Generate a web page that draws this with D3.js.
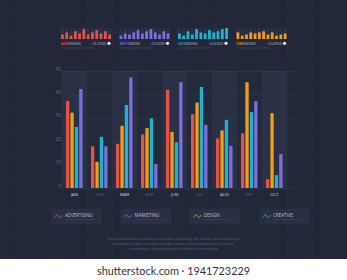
<!DOCTYPE html>
<html>
<head>
<meta charset="utf-8">
<script src="https://cdn.jsdelivr.net/npm/d3@7"></script>
<style>
  html, body { margin: 0; padding: 0; background: #fff; }
  svg { display: block; font-family: "Open Sans", sans-serif; }
</style>
</head>
<body>
<svg id="chart" width="347" height="280"></svg>
<script>
"use strict";

// months shown on the x axis (no MAY in the original)
let months = ["JAN", "FEB", "MAR", "APR", "JUN", "JUL", "AUG", "SEP", "OCT"];

let advertising = [37.2, 17.8, 18.9, 22.9, 42.0, 31.5, 21.2, 23.4, 3.8];
let design      = [32.2, 11.2, 26.6, 25.6, 24.0, 36.5, 24.6, 45.2, 32.0];
let creative    = [26.1, 21.9, 35.5, 29.8, 19.5, 43.2, 29.1, 32.5, 5.5];
let marketing   = [42.3, 17.8, 47.2, 10.2, 45.2, 27.0, 18.0, 37.1, 14.5];

let yTicks = [0, 10, 20, 30, 40, 50];

// small index cards on top
let cardNames  = ["ADV", "MKT", "DES", "CRE"];
let cardValues = ["+0.2500", "+3.2500", "+0.0320", "+0.4950"];
let miniAdv = [4, 6, 3, 7, 5, 9, 4, 6, 8, 5, 7, 4];
let miniMkt = [3, 5, 4, 6, 8, 5, 7, 9, 6, 4, 7, 5];
let miniDes = [5, 3, 7, 4, 9, 6, 5, 8, 6, 7, 9, 10];
let miniCre = [6, 3, 4, 6, 5, 6, 7, 4, 6, 3, 4, 5];

let legendNames = ["ADVERTISING", "MARKETING", "DESIGN", "CREATIVE"];

let loremLines = [
  "Lorem ipsum dolor sit amet, consectetur adipiscing elit, sed do eiusmod tempor",
  "incididunt ut labore et dolore magna aliqua. Lorem ipsum dolor sit amet,",
  "consectetur. Lorem ipsum dolor sit amet, consectetur"
];

const RED = "#e5524a", ORANGE = "#f09d1c", CYAN = "#1fb3cf", PURPLE = "#7d6fdf";
const BG = "#222839";

let svg = d3.select("#chart");

// dark background
svg.append("rect").attr("width", 347).attr("height", 259).attr("fill", BG);

// very faint background grid texture
let texture = svg.append("g").attr("stroke", "#252b3d").attr("stroke-width", 0.6);
d3.range(0, 347, 25).forEach(x => {
  texture.append("line").attr("x1", x + 12.5).attr("x2", x + 12.5).attr("y1", 0).attr("y2", 259);
});
d3.range(0, 259, 25).forEach(y => {
  texture.append("line").attr("x1", 0).attr("x2", 347).attr("y1", y + 8.5).attr("y2", y + 8.5);
});

// ---- main chart ----
let x = d3.scaleBand().domain(months).range([62, 287]);
let series = [
  { name: "advertising", color: RED, values: advertising },
  { name: "design", color: ORANGE, values: design },
  { name: "creative", color: CYAN, values: creative },
  { name: "marketing", color: PURPLE, values: marketing }
];
let xInner = d3.scaleBand().domain(series.map(s => s.name)).range([4, 20.5]).paddingInner(0.25);
let y = d3.scaleLinear().domain([0, 50]).range([188, 71]);

// alternating column panels
svg.append("g").selectAll("rect").data(months).enter().append("rect")
  .attr("x", d => x(d))
  .attr("y", y(50))
  .attr("width", x.bandwidth())
  .attr("height", y(0) - y(50))
  .attr("fill", (d, i) => i % 2 === 0 ? "#2b3144" : "#232a3b");

// gridlines
svg.append("g")
  .attr("transform", "translate(62,0)")
  .call(d3.axisLeft(y).tickValues(yTicks).tickSize(-233).tickFormat(""))
  .call(g => g.select(".domain").remove())
  .call(g => g.selectAll("line").attr("stroke", "#343b50").attr("stroke-width", 0.6));

// y axis labels
svg.append("g")
  .attr("transform", "translate(61,0)")
  .call(d3.axisLeft(y).tickValues(yTicks).tickSize(0).tickPadding(0))
  .call(g => g.select(".domain").remove())
  .call(g => g.selectAll("text")
    .attr("fill", "#6f7790")
    .style("font-size", "4.5px")
    .style("font-family", "Open Sans, sans-serif")
    .attr("dy", "-0.2em"));

// bars
let groups = svg.append("g").selectAll("g").data(months).enter().append("g")
  .attr("transform", d => `translate(${x(d)},0)`);
groups.selectAll("rect")
  .data((d, i) => series.map(s => ({ key: s.name, color: s.color, value: s.values[i] })))
  .enter().append("rect")
  .attr("x", d => xInner(d.key))
  .attr("y", d => y(d.value))
  .attr("width", xInner.bandwidth())
  .attr("height", d => y(0) - y(d.value))
  .attr("fill", d => d.color);

// x axis labels
svg.append("g")
  .attr("transform", "translate(0,193)")
  .call(d3.axisBottom(x).tickSize(0).tickPadding(0))
  .call(g => g.select(".domain").remove())
  .call(g => g.selectAll("text")
    .attr("fill", (d, i) => i % 2 === 0 ? "#d0d4e0" : "#59617a")
    .style("font-size", "4.3px")
    .style("font-weight", "400")
    .style("font-family", "Open Sans, sans-serif"));

// ---- top index cards ----
let miniSets = [miniAdv, miniMkt, miniDes, miniCre];
let cardColors = [RED, PURPLE, CYAN, ORANGE];
let cardX = d3.scaleBand().domain(cardNames).range([61, 295]);
let miniX = d3.scaleBand().domain(d3.range(12)).range([0, 50]).paddingInner(0.35);
let miniY = d3.scaleLinear().domain([0, 10]).range([39, 28]);

cardNames.forEach((name, ci) => {
  let card = svg.append("g").attr("transform", `translate(${cardX(name)},0)`);
  card.selectAll("rect.bgbar").data(miniSets[ci]).enter().append("rect")
    .attr("class", "bgbar")
    .attr("x", (d, i) => miniX(i))
    .attr("y", miniY(10))
    .attr("width", miniX.bandwidth())
    .attr("height", miniY(0) - miniY(10))
    .attr("fill", "#2d3346");
  card.selectAll("rect.bar").data(miniSets[ci]).enter().append("rect")
    .attr("class", "bar")
    .attr("x", (d, i) => miniX(i))
    .attr("y", d => miniY(d))
    .attr("width", miniX.bandwidth())
    .attr("height", d => miniY(0) - miniY(d))
    .attr("fill", cardColors[ci]);
  let t = card.append("text").attr("x", 0).attr("y", 44.5)
    .style("font-size", "4px").style("font-weight", "600");
  t.append("tspan").attr("fill", cardColors[ci]).text(name);
  t.append("tspan").attr("fill", "#9aa1b5").text("INDEX");
  card.append("text").attr("x", 45).attr("y", 44.5).attr("text-anchor", "end")
    .attr("fill", "#b9bfcf").style("font-size", "4px").text(cardValues[ci]);
  card.append("circle").attr("cx", 48).attr("cy", 43.3).attr("r", 1.6).attr("fill", "#e8eaf0");
  card.append("text").attr("x", 0).attr("y", 48.5)
    .attr("fill", "#4a5168").style("font-size", "2.6px").text("Lorem ipsum dolor sit amet");
});

// ---- legend ----
let legendColors = [RED, PURPLE, ORANGE, CYAN];
let legX = d3.scaleBand().domain(legendNames).range([51, 310]).paddingInner(0.27);
let legend = svg.append("g").selectAll("g").data(legendNames).enter().append("g")
  .attr("transform", d => `translate(${legX(d)},209)`);
legend.append("rect")
  .attr("width", legX.bandwidth()).attr("height", 15)
  .attr("fill", "#2a3043");
legend.append("path")
  .attr("d", "M4,8.2 C5,5.5 6.5,5.5 7.5,7.2 C8.5,8.9 10,8.9 11,6.2")
  .attr("fill", "none")
  .attr("stroke", (d, i) => legendColors[i])
  .attr("stroke-width", 0.9);
legend.append("text")
  .attr("x", 14).attr("y", 7.6)
  .attr("fill", "#b7bdcc")
  .style("font-size", "4.4px")
  .text(d => d);
legend.append("text")
  .attr("x", 14).attr("y", 11.2)
  .attr("fill", "#4d546b")
  .style("font-size", "2.4px")
  .text("Lorem ipsum dolor sit amet");

// ---- lorem text ----
svg.append("g").selectAll("text").data(loremLines).enter().append("text")
  .attr("x", 173.5)
  .attr("y", (d, i) => 240 + i * 5)
  .attr("text-anchor", "middle")
  .attr("fill", "#5f677f")
  .style("font-size", "3.6px")
  .text(d => d);

// ---- watermark strip ----
svg.append("text")
  .attr("x", 173.5).attr("y", 275)
  .attr("text-anchor", "middle")
  .attr("fill", "#333")
  .attr("textLength", 153)
  .attr("lengthAdjust", "spacingAndGlyphs")
  .style("font-family", "Lato, sans-serif")
  .style("font-size", "11.5px")
  .text("shutterstock.com \u00b7 1941723229");
</script>
</body>
</html>
